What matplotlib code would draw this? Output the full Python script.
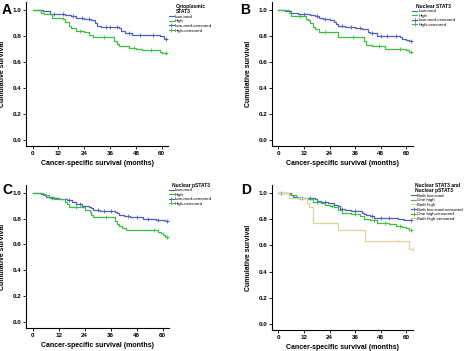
import numpy as np
import matplotlib.pyplot as plt
from matplotlib.lines import Line2D

plt.rcParams['font.family'] = ['Liberation Sans', 'DejaVu Sans']

BLUE = '#4f5fc0'
GREEN = '#3fbf3f'
TAN = '#ddd49c'

# ---- panel A: cytoplasmic STAT3 ----
a_low_t = [0, 5, 8, 12, 15, 18, 20, 24, 27, 29, 30, 32, 40, 41, 43, 46, 59, 61]
a_low_s = [1.0, .99, .97, .965, .96, .95, .94, .93, .92, .90, .88, .87, .86, .84, .82, .81, .80, .78]
a_low_c = [10, 14, 19, 23, 26, 34, 36, 39, 45, 50, 56, 62]
a_high_t = [0, 4, 5.5, 9, 14, 15, 17, 18, 20, 24, 26, 28, 38, 39, 40, 45, 48, 51, 59, 60]
a_high_s = [1.0, .98, .97, .94, .93, .91, .88, .86, .84, .83, .81, .79, .76, .74, .72, .71, .70, .69, .68, .67]
a_high_c = [22, 33, 47, 55, 62]

# ---- panel B: nuclear STAT3 ----
b_low_t = [0, 3, 6, 9, 15, 17, 19, 21, 24, 26, 27, 28, 31, 36, 39, 42, 43, 46, 57, 58, 60, 61]
b_low_s = [1.0, .99, .98, .97, .96, .95, .94, .93, .92, .91, .89, .88, .87, .86, .85, .83, .82, .80, .79, .78, .77, .76]
b_low_c = [12, 18, 22, 30, 34, 38, 44, 48, 51, 55, 62]
b_high_t = [0, 5, 6, 13, 14, 15, 16, 17, 19, 28, 40, 41, 44, 50, 60, 61]
b_high_s = [1.0, .98, .95, .93, .92, .90, .87, .85, .83, .79, .76, .73, .72, .70, .69, .68]
b_high_c = [10, 22, 35, 47, 57, 62]

# ---- panel C: nuclear pSTAT3 ----
c_low_t = [0, 4, 5.5, 6, 8, 12, 14, 16, 18, 20, 23, 26, 27, 28, 31, 38, 39, 40, 42, 45, 51, 57, 61]
c_low_s = [1.0, .99, .98, .97, .96, .955, .95, .94, .93, .91, .90, .89, .88, .87, .86, .85, .84, .83, .82, .81, .80, .79, .78]
c_low_c = [9, 17, 22, 30, 33, 36, 44, 48, 53, 58, 62]
c_high_t = [0, 5, 7.5, 10, 14, 15, 16, 17, 24, 26.5, 27, 28, 38, 39, 40, 41, 43, 58, 59, 60, 61]
c_high_s = [1.0, .98, .97, .95, .95, .93, .91, .89, .87, .85, .83, .81, .78, .76, .74, .73, .71, .70, .69, .67, .66]
c_high_c = [20, 34, 56, 62]

# ---- panel D: combined ----
d_low_t = [0, 6, 7, 9, 17, 18, 20, 23, 26, 28, 29, 31, 34, 39, 40, 41, 43, 45, 56, 59]
d_low_s = [1.0, .98, .97, .96, .95, .94, .93, .92, .91, .90, .88, .87, .86, .85, .84, .83, .82, .81, .80, .79]
d_low_c = [1, 11, 15, 22, 30, 36, 44, 48, 52, 62]
d_one_t = [0, 5, 6, 8, 14, 16, 20, 22, 24, 26, 28, 30, 34, 38, 40, 43, 46, 52, 55, 58, 60, 61]
d_one_s = [1.0, .99, .98, .96, .95, .93, .92, .91, .90, .89, .87, .85, .84, .82, .80, .79, .77, .76, .75, .74, .73, .72]
d_one_c = [10, 18, 25, 36, 45, 50, 57, 62]
d_both_t = [0, 5, 13.5, 14.5, 16, 28, 40.5, 61]
d_both_s = [1.0, .96, .92, .89, .77, .72, .63, .575]
d_both_c = [56, 63]


def km(ax, t, s, cens, color):
    t = list(t) + [63]
    s = list(s) + [s[-1]]
    ax.step(t, s, where='post', color=color, lw=0.9)
    ct = np.array(cens, dtype=float)
    idx = np.searchsorted(np.array(t), ct, side='right') - 1
    cs = np.array(s)[idx]
    ax.plot(ct, cs, '+', color=color, ms=2.5, mew=0.6)


def style(ax, letter, lx, ly):
    ax.set_xlim(-3, 63)
    ax.set_ylim(-0.045, 1.06)
    ax.set_xticks([0, 12, 24, 36, 48, 60])
    ax.set_yticks([0.0, 0.2, 0.4, 0.6, 0.8, 1.0])
    ax.set_yticklabels(['0.0', '0.2', '0.4', '0.6', '0.8', '1.0'])
    ax.tick_params(labelsize=4.5, length=2, width=0.6, pad=1.5)
    for lab in ax.get_xticklabels() + ax.get_yticklabels():
        lab.set_fontweight('bold')
    for sp in ['top', 'right']:
        ax.spines[sp].set_visible(False)
    for sp in ['left', 'bottom']:
        ax.spines[sp].set_linewidth(0.8)
    ax.set_xlabel('Cancer-specific survival (months)', fontsize=5, labelpad=3,
                  fontweight='bold')
    ax.set_ylabel('Cumulative survival', fontsize=5, fontweight='bold')
    ax.yaxis.set_label_coords(-0.14, 0.5)
    fig.text(lx, ly, letter, fontsize=10, fontweight='bold', va='center', ha='left')


def legend(ax, title, names, colors, x, y):
    handles = []
    for n, c in zip(names, colors):
        handles.append(Line2D([], [], color=c, lw=0.8, label=n))
    for n, c in zip(names, colors):
        handles.append(Line2D([], [], color=c, lw=0.8, marker='+', ms=2.5,
                              mew=0.6, label=n + '-censored'))
    lg = ax.legend(handles=handles, title=title, loc='upper left',
                   bbox_to_anchor=(x, y), bbox_transform=fig.transFigure,
                   frameon=False, fontsize=3.2, title_fontsize=3.6,
                   handlelength=1.0, handletextpad=0.3, labelspacing=0.1,
                   borderaxespad=0, borderpad=0)
    lg.get_title().set_fontweight('bold')
    lg._legend_box.align = 'center'


fig = plt.figure(figsize=(4.74, 3.51), dpi=100)
axA = fig.add_axes([0.055, 0.584, 0.30, 0.41])
axB = fig.add_axes([0.574, 0.584, 0.297, 0.41])
axC = fig.add_axes([0.055, 0.066, 0.302, 0.407])
axD = fig.add_axes([0.574, 0.06, 0.297, 0.413])

km(axA, a_low_t, a_low_s, a_low_c, BLUE)
km(axA, a_high_t, a_high_s, a_high_c, GREEN)
style(axA, 'A', 0.004, 0.972)
legend(axA, 'Cytoplasmic\nSTAT3', ['Low-mod', 'High'], [BLUE, GREEN], 0.357, 0.99)

km(axB, b_low_t, b_low_s, b_low_c, BLUE)
km(axB, b_high_t, b_high_s, b_high_c, GREEN)
style(axB, 'B', 0.506, 0.972)
legend(axB, 'Nuclear STAT3', ['Low-mod', 'High'], [BLUE, GREEN], 0.87, 0.99)

km(axC, c_low_t, c_low_s, c_low_c, BLUE)
km(axC, c_high_t, c_high_s, c_high_c, GREEN)
style(axC, 'C', 0.004, 0.46)
legend(axC, 'Nuclear pSTAT3', ['Low-mod', 'High'], [BLUE, GREEN], 0.357, 0.48)

km(axD, d_low_t, d_low_s, d_low_c, BLUE)
km(axD, d_one_t, d_one_s, d_one_c, GREEN)
km(axD, d_both_t, d_both_s, d_both_c, TAN)
style(axD, 'D', 0.508, 0.46)
legend(axD, 'Nuclear STAT3 and\nNuclear pSTAT3', ['Both low-mod', 'One high', 'Both high'],
       [BLUE, GREEN, TAN], 0.868, 0.48)

fig.savefig('out.png', dpi=100)
